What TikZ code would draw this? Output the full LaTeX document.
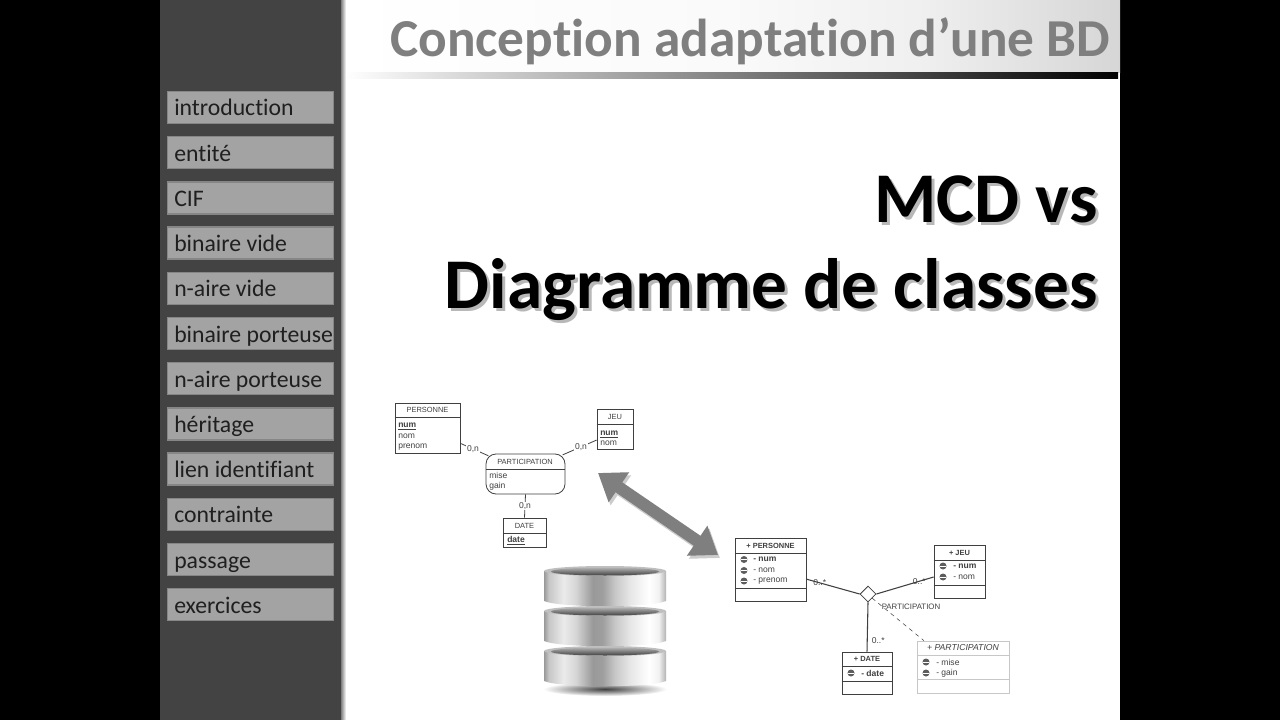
\documentclass[tikz,border=0pt]{standalone}
\usepackage{fontspec}
\setmainfont{Carlito}[Ligatures=NoCommon]
\newfontfamily\umlfont{Liberation Sans}
\usetikzlibrary{arrows.meta,shapes.geometric}
\def\px{0.75pt}
\definecolor{slidedark}{HTML}{434343}
\definecolor{menufill}{HTML}{A3A3A3}
\definecolor{menuline}{HTML}{868686}
\definecolor{umlink}{HTML}{404040}
\definecolor{headgray}{HTML}{7F7F7F}
\newcommand{\softshadow}[1]{\makebox[0pt][l]{\kern2.25pt\raisebox{-2.25pt}{\textcolor{black!28}{#1}}}#1}
\pgfdeclarehorizontalshading{diskbody}{100bp}{
	rgb(0bp)=(.6,.6,.6); rgb(25bp)=(.6,.6,.6); rgb(27bp)=(.78,.78,.78); rgb(33bp)=(.92,.92,.92);
	rgb(38bp)=(.84,.84,.84); rgb(45bp)=(.6,.6,.6); rgb(49bp)=(.62,.62,.62); rgb(54bp)=(.78,.78,.78);
	rgb(60bp)=(.9,.9,.9); rgb(68bp)=(1,1,1); rgb(72bp)=(.95,.95,.95); rgb(75bp)=(.7,.7,.7); rgb(100bp)=(.7,.7,.7)}
\pgfdeclarehorizontalshading{titleband}{100bp}{
	rgb(0bp)=(1,1,1); rgb(25bp)=(1,1,1); rgb(50bp)=(.98,.98,.98); rgb(62bp)=(.94,.94,.94); rgb(75bp)=(.84,.84,.84); rgb(100bp)=(.84,.84,.84)}
\tikzset{
	menubox/.style={draw=menuline, line width=1.1pt, fill=menufill, minimum width=166*\px, minimum height=32*\px, inner sep=0pt},
	menutext/.style={anchor=base west, inner sep=0pt, text=black!88, font=\fontsize{17.8}{19}\selectfont},
	umlbox/.style={draw=umlink, line width=0.6pt, fill=white, inner sep=0pt},
	umltext/.style={inner sep=0pt, text=umlink, font=\umlfont\fontsize{5.6}{6}\selectfont},
	umlrow/.style={inner sep=0pt, text=umlink, font=\umlfont\fontsize{6.4}{7}\selectfont, anchor=base west},
	rowtext/.style={umlrow, anchor=west},
	umlline/.style={draw=umlink, line width=0.6pt},
	card/.style={umlrow, anchor=center, fill=white, inner sep=0.6pt},
	cardfree/.style={umlrow, anchor=center},
	bigtext/.style={anchor=base east, inner sep=0pt, text=black, font=\fontsize{53.5}{58}\selectfont\bfseries},
	minusicon/.style={circle, fill=umlink!85, minimum size=7*\px, inner sep=0pt,
		path picture={\draw[white, line width=0.5pt] (path picture bounding box.west) -- (path picture bounding box.east);}}
}
\begin{document}
\begin{tikzpicture}[x=0.75pt, y=-0.75pt]
	\useasboundingbox (0,0) rectangle (1280,720);
	\fill[black] (0,0) rectangle (1280,720);
	\fill[white] (160,0) rectangle (1120,720);
	\shade[shading=titleband] (345,0) rectangle (1120,73);
	\shade[left color=white, right color=black] (345,73) rectangle (1118,79);
	\shade[left color=black!50, right color=white] (341,0) rectangle (346,720);
	\fill[slidedark] (160,0) rectangle (341,720);

	\node[anchor=base east, inner sep=0pt, text=headgray, font=\fontsize{40}{44}\selectfont\bfseries] (title) at (1110,57) {Conception adaptation d’une BD};

	\foreach \entry [count=\i] in {introduction,entité,CIF,binaire vide,n-aire vide,binaire porteuse,n-aire porteuse,héritage,lien identifiant,contrainte,passage,exercices} {
		\node[menubox] (menu\i) at (250.5,{107.5+(\i-1)*45.2}) {};
		\node[menutext] (item\i) at (174,{116+(\i-1)*45.2}) {\entry};
	}

	\node[bigtext] (headA) at (1098,223) {\softshadow{MCD vs}};
	\node[bigtext] (headB) at (1098,308) {\softshadow{Diagramme de classes}};

	% base de donnees
	\shade[inner color=black!75, outer color=white] (605,689) ellipse [x radius=62, y radius=7];
	\foreach \t in {571,611,651} {
		\shade[shading=diskbody] (544,\t) -- (544,\t+30) .. controls (560,\t+37) and (650,\t+37) .. (666,\t+30) -- (666,\t) -- cycle;
		\fill[black!25] (605,\t) ellipse [x radius=61, y radius=5];
		\shade[top color=black!30, bottom color=black!75] (605,\t+0.5) ellipse [x radius=54, y radius=4];
	}

	% MCD
	\node[umlbox, minimum width=65*\px, minimum height=50*\px] (personne) at (427.5,428) {};
	\node[umlbox, minimum width=36*\px, minimum height=40*\px] (jeu) at (615,429) {};
	\node[umlbox, minimum width=79*\px, minimum height=40*\px, rounded corners=7.5pt] (participation) at (525.5,474) {};
	\node[umlbox, minimum width=43*\px, minimum height=29*\px] (date) at (524.5,532.5) {};
	\draw[umlline] (personne.west |- 0,417) -- (personne.east |- 0,417);
	\draw[umlline] (jeu.west |- 0,424) -- (jeu.east |- 0,424);
	\draw[umlline] (participation.west |- 0,469) -- (participation.east |- 0,469);
	\draw[umlline] (date.west |- 0,533) -- (date.east |- 0,533);
	\draw[umlline, shorten >=-3*\px] (personne.-25) -- (participation.154) node[card, midway] {0,n};
	\draw[umlline, shorten >=-3*\px] (jeu.211) -- (participation.27) node[card, midway] {0,n};
	\draw[umlline] (participation.south) -- (date.north) node[card, midway] {0,n};
	\node[umltext] (personneT) at (427.5,410) {PERSONNE};
	\node[umlrow] (personneA) at (398,427) {\underline{\textbf{num}}};
	\node[umlrow] (personneB) at (398,438) {nom};
	\node[umlrow] (personneC) at (398,448) {prenom};
	\node[umltext] (jeuT) at (615,417) {JEU};
	\node[umlrow] (jeuA) at (600,435) {\underline{\textbf{num}}};
	\node[umlrow] (jeuB) at (600,445) {nom};
	\node[umltext] (participationT) at (525,462) {PARTICIPATION};
	\node[umlrow] (participationA) at (489,478) {mise};
	\node[umlrow] (participationB) at (489,488) {gain};
	\node[umltext] (dateT) at (524.5,526) {DATE};
	\node[umlrow] (dateA) at (507,542) {\underline{\textbf{date}}};

	% double fleche
	\coordinate (arrowA) at (598,473);
	\coordinate (arrowB) at (718,555);
	\coordinate (arrowC) at (600,476);
	\coordinate (arrowD) at (720,558);
	\draw[black!20, line width=12*\px, {Triangle[length=19pt,width=26pt]}-{Triangle[length=19pt,width=26pt]}] (arrowC) -- (arrowD);
	\draw[headgray, line width=12*\px, {Triangle[length=19pt,width=26pt]}-{Triangle[length=19pt,width=26pt]}] (arrowA) -- (arrowB);

	% diagramme de classes
	\node[umlbox, minimum width=71*\px, minimum height=63*\px] (cpersonne) at (770.5,569.5) {};
	\node[umlbox, minimum width=51*\px, minimum height=53*\px] (cjeu) at (959.5,571.5) {};
	\node[umlbox, minimum width=50*\px, minimum height=42*\px] (cdate) at (867,673) {};
	\node[umlbox, draw=black!22, minimum width=92*\px, minimum height=52*\px] (cpart) at (963,667) {};
	\node[diamond, draw=umlink, line width=0.6pt, fill=white, minimum size=16*\px, inner sep=0pt] (rel) at (868,594) {};
	\draw[umlline] (cpersonne.west |- 0,553) -- (cpersonne.east |- 0,553);
	\draw[umlline] (cpersonne.west |- 0,588) -- (cpersonne.east |- 0,588);
	\draw[umlline] (cjeu.west |- 0,560) -- (cjeu.east |- 0,560);
	\draw[umlline] (cjeu.west |- 0,585) -- (cjeu.east |- 0,585);
	\draw[umlline] (cdate.west |- 0,666) -- (cdate.east |- 0,666);
	\draw[umlline] (cdate.west |- 0,681) -- (cdate.east |- 0,681);
	\draw[black!22, line width=0.6pt] (cpart.west |- 0,655) -- (cpart.east |- 0,655);
	\draw[black!22, line width=0.6pt] (cpart.west |- 0,679) -- (cpart.east |- 0,679);
	\draw[umlline, line width=0.8pt] (cpersonne.-15) -- (rel.west) node[cardfree, pos=.25] {0..*};
	\draw[umlline, line width=0.8pt] (cjeu.192) -- (rel.east) node[cardfree, pos=.25] {0..*};
	\draw[umlline, line width=0.8pt] (rel.south) -- (cdate.north) node[cardfree, pos=.78, right=3pt] {0..*};
	\draw[umlline, dashed, line width=0.4pt] (rel.-45) -- (cpart.146);
	\node[umltext, font=\umlfont\fontsize{5.9}{6}\selectfont] (relT) at (911,607) {PARTICIPATION};
	\node[umltext, font=\umlfont\fontsize{5.6}{6}\selectfont\bfseries] (cpersonneT) at (770.5,545.5) {+ PERSONNE};
	\node[umltext, font=\umlfont\fontsize{5.6}{6}\selectfont\bfseries] (cjeuT) at (959.5,552.5) {+ JEU};
	\node[umltext, font=\umlfont\fontsize{5.6}{6}\selectfont\bfseries] (cdateT) at (867,659) {+ DATE};
	\node[umltext, font=\umlfont\fontsize{6.5}{7}\selectfont\itshape] (cpartT) at (963,648) {+ PARTICIPATION};
	\foreach \y/\name/\lab in {559.5/a/\textbf{- num},570.5/b/- nom,581/c/- prenom} {
		\node[minusicon] (pi\name) at (744,\y) {};
		\node[rowtext] (pt\name) at (753,\y) {\lab};
	}
	\foreach \y/\name/\lab in {566/a/\textbf{- num},577/b/- nom} {
		\node[minusicon] (ji\name) at (943,\y) {};
		\node[rowtext] (jt\name) at (953,\y) {\lab};
	}
	\node[minusicon] (di) at (851,673) {};
	\node[rowtext] (dt) at (861,673) {\textbf{- date}};
	\foreach \y/\name/\lab in {662/a/- mise,673/b/- gain} {
		\node[minusicon] (ci\name) at (926,\y) {};
		\node[rowtext] (ct\name) at (936,\y) {\lab};
	}
\end{tikzpicture}
\end{document}
